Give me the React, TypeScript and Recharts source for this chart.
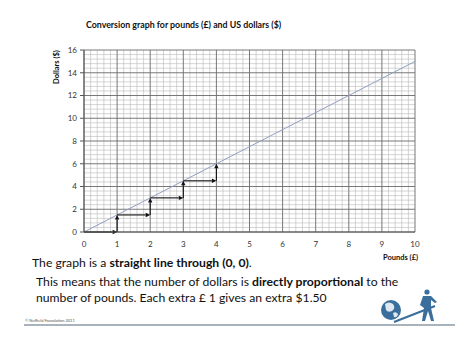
import React from 'react'
import { ComposedChart, Line, XAxis, YAxis, ReferenceLine } from 'recharts'

// conversion line: pounds -> dollars
const POUNDS = [0, 10]
const DOLLARS = [0, 15]
// staircase: each extra £1 gives an extra $1.50
const STEP_POUNDS = [0, 1, 2, 3, 4]
const STEP_DOLLARS = [0, 1.5, 3, 4.5, 6]
const X_TICKS = [0, 1, 2, 3, 4, 5, 6, 7, 8, 9, 10]
const Y_TICKS = [0, 2, 4, 6, 8, 10, 12, 14, 16]

// graph paper: 5 minor lines per major square
const X_MINOR = Array.from({ length: 51 }, (_, i) => +(i * 0.2).toFixed(1)).filter(v => v % 1 !== 0)
const Y_MINOR = Array.from({ length: 41 }, (_, i) => +(i * 0.4).toFixed(1)).filter(v => v % 2 !== 0)

const FONT = 'Lato, "Open Sans", sans-serif'
const data = POUNDS.map((p, i) => ({ x: p, y: DOLLARS[i] }))

const segs: { a: { x: number; y: number }; b: { x: number; y: number } }[] = []
for (let i = 0; i < STEP_POUNDS.length - 1; i++) {
  segs.push({ a: { x: STEP_POUNDS[i], y: STEP_DOLLARS[i] }, b: { x: STEP_POUNDS[i + 1], y: STEP_DOLLARS[i] } })
  segs.push({ a: { x: STEP_POUNDS[i + 1], y: STEP_DOLLARS[i] }, b: { x: STEP_POUNDS[i + 1], y: STEP_DOLLARS[i + 1] } })
}

const Arrow = (p: any) => {
  const { x1, y1, x2, y2 } = p
  const ang = Math.atan2(y2 - y1, x2 - x1)
  const L = 4.5, W = 2.2
  const bx = x2 - L * Math.cos(ang), by = y2 - L * Math.sin(ang)
  const pts = [
    [x2, y2],
    [bx + W * Math.sin(ang), by - W * Math.cos(ang)],
    [bx - W * Math.sin(ang), by + W * Math.cos(ang)],
  ].map(q => q.join(',')).join(' ')
  return (
    <g>
      <line x1={x1} y1={y1} x2={bx} y2={by} stroke="#111" strokeWidth={1.1} />
      <polygon points={pts} fill="#111" />
    </g>
  )
}

const MINOR = { stroke: '#b8b8b8', strokeWidth: 0.6 }
const MAJOR = { stroke: '#6a6a6a', strokeWidth: 0.9 }

export default function App() {
  return (
    <div style={{ position: 'absolute', left: 0, top: 0, width: 474, height: 355, background: '#fff', fontFamily: FONT, color: '#111' }}>
      <ComposedChart width={474} height={355} data={data} margin={{ top: 50, right: 59, bottom: 103, left: 54 }}>
        <XAxis type="number" dataKey="x" domain={[0, 10]} ticks={X_TICKS} height={20} tickSize={0} tickMargin={9}
          tick={{ fontSize: 8, fill: '#333', fontFamily: FONT }} axisLine={{ stroke: '#555' }} />
        <YAxis type="number" domain={[0, 16]} ticks={Y_TICKS} width={30} tickSize={4} tickMargin={3}
          tick={{ fontSize: 8, fill: '#333', fontFamily: FONT }} axisLine={{ stroke: '#555' }} tickLine={{ stroke: '#555' }} />
        {X_MINOR.map(v => <ReferenceLine key={'xm' + v} x={v} {...MINOR} />)}
        {Y_MINOR.map(v => <ReferenceLine key={'ym' + v} y={v} {...MINOR} />)}
        {X_TICKS.map(v => <ReferenceLine key={'xM' + v} x={v} {...MAJOR} />)}
        {Y_TICKS.map(v => <ReferenceLine key={'yM' + v} y={v} {...MAJOR} />)}
        <Line dataKey="y" stroke="#919fc2" strokeWidth={1} dot={false} isAnimationActive={false} />
        {segs.map((s, i) => (
          <ReferenceLine key={i} segment={[s.a, s.b]} shape={Arrow} ifOverflow="visible" />
        ))}
      </ComposedChart>

      <div style={{ position: 'absolute', left: 86, top: 19, fontSize: 8.8, fontWeight: 700, whiteSpace: 'nowrap' }}>
        Conversion graph for pounds (£) and US dollars ($)
      </div>
      <div style={{ position: 'absolute', left: 383, top: 253, fontSize: 7.5, fontWeight: 700, whiteSpace: 'nowrap' }}>
        Pounds (£)
      </div>
      <div style={{ position: 'absolute', left: 32, top: 255, fontSize: 12.2, whiteSpace: 'nowrap' }}>
        The graph is a <b>straight line through (0, 0)</b>.
      </div>
      <div style={{ position: 'absolute', left: 36, top: 274, fontSize: 12.2, lineHeight: '16px', whiteSpace: 'nowrap' }}>
        This means that the number of dollars is <b>directly proportional</b> to the<br />
        number of pounds. Each extra £ 1 gives an extra $1.50
      </div>
      <div style={{ position: 'absolute', left: 25, top: 318, fontSize: 4, color: '#555', whiteSpace: 'nowrap' }}>
        © Nuffield Foundation 2011
      </div>
      <svg style={{ position: 'absolute', left: 0, top: 0 }} width={474} height={355}>
        <text x={58.5} y={67} transform="rotate(-90 58.5 67)" textAnchor="middle" fontSize={7.5} fontWeight={700} fontFamily={FONT} fill="#111">
          Dollars ($)
        </text>
        <line x1={24} y1={325} x2={455} y2={325} stroke="#8d9aa6" strokeWidth={1.5} />
        <circle cx={391} cy={310} r={10} fill="#3a6e9c" />
        <path d="M385 304 q4 -3 8 0 q3 4 -1 7 q-4 2 -6 -1 z M393 313 q3 -2 5 1 q-1 4 -4 3 z" fill="#dfe8f0" />
        <line x1={394} y1={322} x2={435} y2={306} stroke="#3a6e9c" strokeWidth={2.2} />
        <circle cx={427} cy={292} r={2.6} fill="#3a6e9c" />
        <path d="M423 296 L431 296 L437 302 L435 303 L431 300 L431 308 L434 321 L431 321 L428 311 L425 321 L422 321 L424 308 L420 305 Z" fill="#3a6e9c" />
      </svg>
    </div>
  )
}
